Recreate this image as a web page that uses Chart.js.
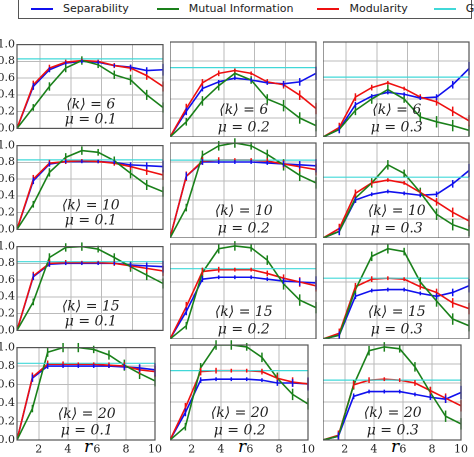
<!DOCTYPE html>
<html><head><meta charset="utf-8">
<script src="https://cdn.jsdelivr.net/npm/chart.js@4"></script>
<style>
body{margin:0;background:#fff;width:474px;height:457px;position:relative;overflow:hidden;font-family:"DejaVu Sans",sans-serif}
canvas{position:absolute}
#leg{position:absolute;left:18px;top:-2px;width:454px;height:21px;border:1px solid #555;box-sizing:border-box;display:flex;align-items:center;font-size:11px;color:#222;white-space:nowrap}
#leg span{display:inline-flex;align-items:center;margin-left:12px}
#leg i{display:inline-block;width:22px;height:2px;margin-right:10px}
#rl1,#rl2,#rl3{position:absolute;top:436px;font:italic 17px "DejaVu Serif",serif}
</style></head><body>
<div id="leg"><span><i style="background:#1010ee"></i>Separability</span><span style="margin-left:28px"><i style="background:#1a801a"></i>Mutual Information</span><span style="margin-left:24px"><i style="background:#ee1010"></i>Modularity</span><span style="margin-left:26px"><i style="background:#40d8d8"></i>GT Modularity</span></div>
<div id="rl1" style="left:84px">r</div><div id="rl2" style="left:238px">r</div><div id="rl3" style="left:391px">r</div>
<script>
const rValues=[0.5,1.56,2.61,3.67,4.72,5.78,6.83,7.89,8.94,10];
const kValues=[6,10,15,20];
const muValues=[0.1,0.2,0.3];
const yTicks=[0,0.2,0.4,0.6,0.8,1.0];
const xTicks=[2,4,6,8,10];
// [k][mu]
const sepData=[
 [[0,0.5,0.7,0.78,0.8,0.79,0.75,0.73,0.69,0.7],[0,0.27,0.51,0.58,0.62,0.6,0.57,0.56,0.58,0.67],[0,0.08,0.34,0.43,0.47,0.45,0.41,0.42,0.55,0.72]],
 [[0,0.58,0.78,0.81,0.81,0.81,0.8,0.77,0.76,0.75],[0,0.65,0.8,0.8,0.8,0.8,0.79,0.78,0.77,0.76],[0,0.07,0.4,0.46,0.49,0.47,0.45,0.46,0.57,0.71]],
 [[0,0.64,0.79,0.8,0.8,0.8,0.8,0.78,0.77,0.76],[0,0.29,0.63,0.65,0.65,0.65,0.63,0.61,0.6,0.59],[0,0.04,0.45,0.51,0.52,0.52,0.48,0.45,0.49,0.56]],
 [[0,0.67,0.8,0.8,0.8,0.8,0.8,0.79,0.78,0.76],[0,0.29,0.63,0.64,0.64,0.64,0.63,0.6,0.6,0.59],[0,0.04,0.46,0.51,0.51,0.51,0.48,0.45,0.43,0.5]]];
const miData=[
 [[0,0.25,0.5,0.72,0.81,0.76,0.64,0.58,0.4,0.25],[0,0.16,0.38,0.54,0.67,0.6,0.4,0.33,0.2,0.12],[0,0.08,0.28,0.4,0.5,0.4,0.21,0.16,0.12,0.07]],
 [[0,0.3,0.68,0.86,0.94,0.92,0.82,0.67,0.53,0.45],[0,0.32,0.87,0.97,1.0,0.97,0.88,0.77,0.66,0.58],[0,0.07,0.42,0.58,0.77,0.68,0.48,0.25,0.14,0.08]],
 [[0,0.34,0.87,0.99,1.0,0.97,0.87,0.76,0.66,0.56],[0,0.14,0.7,0.95,0.98,0.96,0.83,0.58,0.41,0.33],[0,0.04,0.52,0.87,0.95,0.92,0.6,0.4,0.21,0.14]],
 [[0,0.34,0.95,1.0,1.0,0.98,0.92,0.81,0.72,0.64],[0,0.14,0.76,1.0,1.0,0.98,0.87,0.65,0.48,0.38],[0,0.04,0.58,0.94,0.98,0.96,0.77,0.5,0.25,0.17]]];
const modData=[
 [[0,0.52,0.72,0.79,0.81,0.8,0.75,0.72,0.63,0.5],[0,0.3,0.57,0.67,0.7,0.67,0.58,0.55,0.44,0.3],[0,0.1,0.42,0.52,0.57,0.51,0.42,0.37,0.27,0.17]],
 [[0,0.6,0.79,0.81,0.82,0.81,0.79,0.75,0.7,0.65],[0,0.65,0.81,0.82,0.82,0.82,0.81,0.78,0.75,0.72],[0,0.1,0.47,0.58,0.61,0.58,0.48,0.38,0.27,0.18]],
 [[0,0.65,0.8,0.81,0.81,0.81,0.8,0.77,0.74,0.71],[0,0.34,0.71,0.73,0.73,0.73,0.69,0.64,0.6,0.56],[0,0.06,0.55,0.63,0.64,0.63,0.55,0.49,0.38,0.32]],
 [[0,0.68,0.82,0.82,0.82,0.82,0.81,0.8,0.76,0.74],[0,0.34,0.72,0.73,0.73,0.73,0.72,0.65,0.61,0.59],[0,0.05,0.58,0.63,0.64,0.63,0.6,0.52,0.44,0.36]]];
const gtData=[[0.83,0.73,0.63],[0.83,0.82,0.64],[0.82,0.74,0.64],[0.83,0.73,0.63]];
const sepErr=[0,0.04,0.03,0.02,0.02,0.02,0.02,0.03,0.04,0.07];
const miErr=[0,0.04,0.05,0.05,0.05,0.04,0.05,0.06,0.06,0.06];
const modErr=[0,0.05,0.04,0.03,0.02,0.02,0.03,0.04,0.05,0.06];

const colL=[17,170,323], rowT=[42,143,244,345], PW=145, PH=93;
const errPlugin={id:'err',afterDatasetsDraw(c){const ctx=c.ctx,xs=c.scales.x,ys=c.scales.y;
 c.data.datasets.forEach((d,i)=>{if(!d.err)return;ctx.save();ctx.strokeStyle=d.borderColor;ctx.lineWidth=1.5;
  d.data.forEach((p,j)=>{const e=d.err[j];if(!e)return;const x=xs.getPixelForValue(p.x);
   ctx.beginPath();ctx.moveTo(x,ys.getPixelForValue(p.y-e));ctx.lineTo(x,ys.getPixelForValue(p.y+e));ctx.stroke();});ctx.restore();});
 const o=c.options.plugins.err;ctx.save();ctx.fillStyle='#222';ctx.font='italic 14px "DejaVu Serif",serif';ctx.textAlign='center';
 const cx=xs.getPixelForValue(5.3);ctx.fillText('\u27E8k\u27E9 = '+o.k,cx,ys.getPixelForValue(0.24));ctx.fillText('\u03BC = '+o.mu,cx,ys.getPixelForValue(0.06));ctx.restore();}};
const borderPlugin={id:'frame',afterDraw(c){const a=c.chartArea,ctx=c.ctx;ctx.save();ctx.strokeStyle='#555';ctx.lineWidth=1.2;ctx.strokeRect(a.left,a.top,a.width,a.height);ctx.restore();}};
function pts(a){return a.map((y,i)=>({x:rValues[i],y}));}
for(let r=0;r<4;r++)for(let c=0;c<3;c++){
 const padT=6, lw=c==0?17:0, bh=r==3?20:0;
 const W=lw+PW+3, H=padT+PH+bh+2;
 const cv=document.createElement('canvas');
 cv.width=W;cv.height=H;
 cv.style.left=(colL[c]-lw)+'px';cv.style.top=(rowT[r]-padT)+'px';
 cv.style.width=W+'px';cv.style.height=H+'px';
 document.body.appendChild(cv);
 new Chart(cv,{type:'scatter',data:{datasets:[
  {data:pts(rValues.map(()=>gtData[r][c])),borderColor:'#40d8d8',borderWidth:1.2,showLine:true,pointRadius:0},
  {data:pts(miData[r][c]),err:miErr,borderColor:'#1a801a',borderWidth:1.6,showLine:true,pointRadius:0},
  {data:pts(modData[r][c]),err:modErr,borderColor:'#ee1010',borderWidth:1.6,showLine:true,pointRadius:0},
  {data:pts(sepData[r][c]),err:sepErr,borderColor:'#1010ee',borderWidth:1.6,showLine:true,pointRadius:0}]},
  options:{responsive:false,animation:false,devicePixelRatio:2,
   layout:{padding:{top:padT,right:2,left:0,bottom:0}},
   plugins:{legend:{display:false},tooltip:{enabled:false},err:{k:kValues[r],mu:muValues[c]}},
   scales:{
    x:{type:'linear',min:0.5,max:10,afterBuildTicks:s=>{s.ticks=xTicks.map(v=>({value:v}));},
     grid:{color:'#bbb',borderDash:[1,2],drawTicks:false},border:{display:false},
     ticks:{display:r==3,padding:3,color:'#222',font:{family:'DejaVu Serif',size:11},maxRotation:0},
     afterFit:s=>{s.height=bh;}},
    y:{min:0,max:1,afterBuildTicks:s=>{s.ticks=yTicks.map(v=>({value:v}));},
     grid:{color:'#bbb',borderDash:[1,2],drawTicks:false},border:{display:false},
     ticks:{display:c==0,padding:2,color:'#222',font:{family:'DejaVu Serif',size:11},callback:v=>v.toFixed(1)},
     afterFit:s=>{s.width=lw;}}}},
  plugins:[errPlugin,borderPlugin]});
}
</script></body></html>
